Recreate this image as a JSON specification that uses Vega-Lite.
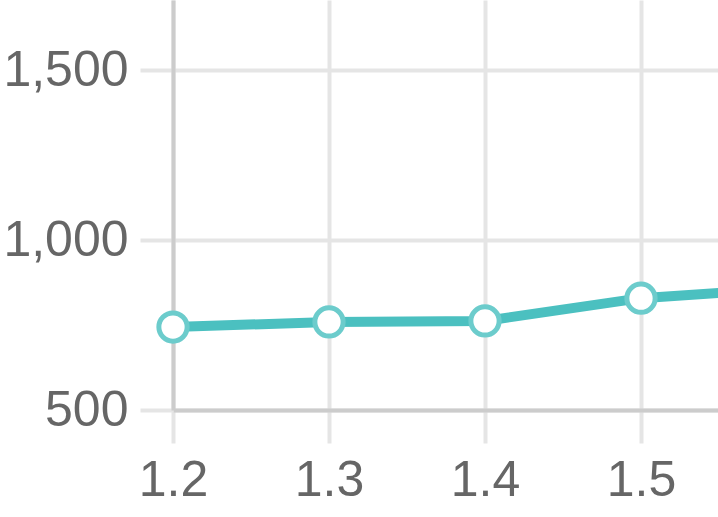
{
  "$schema": "https://vega.github.io/schema/vega-lite/v6.json",
  "autosize": {"type": "none"},
  "padding": {"left": 173, "top": 0, "right": 0, "bottom": 107},
  "width": 546,
  "height": 410,
  "background": "white",
  "config": {
    "view": {"stroke": null},
    "axis": {
      "labelFont": "Liberation Sans",
      "labelFontSize": 50,
      "labelColor": "#666666",
      "gridColor": "#e5e5e5",
      "gridWidth": 4,
      "tickColor": "#e5e5e5",
      "tickWidth": 4,
      "domainColor": "#cccccc",
      "domainWidth": 4,
      "title": null
    }
  },
  "data": {
    "values": [
      {"x": 1.2, "y": 744},
      {"x": 1.3, "y": 759},
      {"x": 1.4, "y": 762},
      {"x": 1.5, "y": 829},
      {"x": 1.6, "y": 860}
    ]
  },
  "encoding": {
    "x": {
      "field": "x",
      "type": "quantitative",
      "scale": {"domain": [1.2, 1.55], "nice": false, "zero": false},
      "axis": {
        "values": [1.2, 1.3, 1.4, 1.5],
        "format": ".1f",
        "tickSize": 33,
        "labelPadding": 12,
        "labelFlush": false
      }
    },
    "y": {
      "field": "y",
      "type": "quantitative",
      "scale": {"domain": [500, 1706], "nice": false, "zero": false},
      "axis": {
        "values": [500, 1000, 1500],
        "format": ",d",
        "tickSize": 33,
        "labelPadding": 12,
        "labelFlush": false
      }
    }
  },
  "layer": [
    {
      "mark": {"type": "line", "color": "#4bc0c0", "strokeWidth": 10, "clip": true}
    },
    {
      "mark": {
        "type": "point",
        "shape": "circle",
        "filled": true,
        "fill": "white",
        "stroke": "#6ccccc",
        "strokeWidth": 5,
        "size": 800,
        "opacity": 1
      }
    }
  ]
}
